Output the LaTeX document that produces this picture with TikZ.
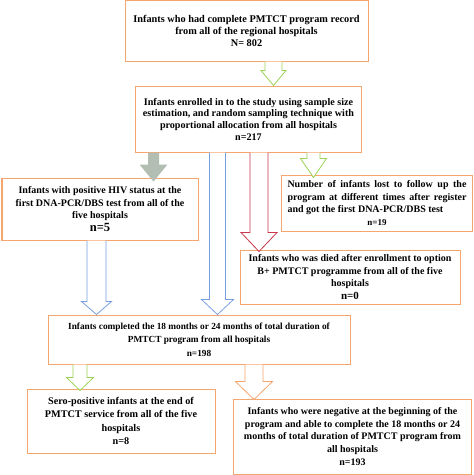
\documentclass[tikz,border=0pt]{standalone}
\usepackage{fontspec}
\setmainfont{Liberation Serif}
\usetikzlibrary{calc}
\definecolor{boxorange}{RGB}{245,165,110}
\definecolor{arrgreen}{RGB}{155,210,85}
\definecolor{arrblue}{RGB}{120,160,225}
\definecolor{arrred}{RGB}{200,55,75}
\definecolor{arrgray}{RGB}{178,190,178}
\tikzstyle{Box} = [draw=boxorange, line width=1pt, rectangle, inner sep=0pt, align=center, font=\fontsize{10}{12.8}\selectfont\bfseries]
\tikzstyle{Hollow} = [line width=0.8pt, fill=white]
\tikzstyle{Solid} = [draw=none, fill=arrgray]
% block arrow: style, start, tip, shaft half width, head half width, head length
\newcommand{\blockarrow}[6]{%
  \draw[#1] let \p1=(#2), \p2=(#3) in
    (\x1-#4,\y1) -- (\x1-#4,\y2+#6) -- (\x1-#5,\y2+#6) -- (\x1,\y2)
    -- (\x1+#5,\y2+#6) -- (\x1+#4,\y2+#6) -- (\x1+#4,\y1);}

\begin{document}
\begin{tikzpicture}[x=1pt,y=-1pt]
    \useasboundingbox (0,0) rectangle (474,475);
    \node[Box, minimum width=243pt, minimum height=60.5pt, font=\fontsize{10.3}{11.7}\selectfont\bfseries] (i_records)  at (246.5,30.75)
      {Infants who had complete PMTCT program record\\ from all of the regional hospitals\\ N= 802};
    \node[Box, minimum width=226pt, minimum height=66pt, font=\fontsize{10.1}{11.7}\selectfont\bfseries]   (i_enrolled) at (248.5,119)
      {Infants enrolled in to the study using sample size\\ estimation, and random sampling technique with\\ proportional allocation from all hospitals\\ n=217};
    \node[Box, minimum width=196pt, minimum height=62pt]   (i_positive) at (100,209)
      {Infants with positive HIV status at the\\ first DNA-PCR/DBS test from all of the\\ five hospitals\\ {\fontsize{12.5}{13}\selectfont n=5}};
    \node[Box, minimum width=191.5pt, minimum height=56pt]   (i_lost)     at (377,203)
      {\makebox[179pt][s]{Number of infants lost to follow up the}\\
       \makebox[179pt][s]{program at different times after register}\\
       \makebox[179pt][l]{and got the first DNA-PCR/DBS test}\\ {\fontsize{9}{10}\selectfont n=19}};
    \node[Box, minimum width=220pt, minimum height=54pt]   (i_died)     at (350,277)
      {Infants who was died after enrollment to option\\ B+ PMTCT programme from all of the five\\ hospitals\\ {\fontsize{11}{11}\selectfont n=0}};
    \node[Box, minimum width=302pt, minimum height=49pt, font=\fontsize{9.3}{13.3}\selectfont\bfseries] (o_completed) at (199,339.5)
      {Infants completed the 18 months or 24 months of total duration of\\ PMTCT program from all hospitals\\ n=198};
    \node[Box, minimum width=188pt, minimum height=64pt, font=\fontsize{10.2}{13.5}\selectfont\bfseries] (o_sero) at (121,421)
      {Sero-positive infants at the end of\\ PMTCT service from all of the five\\ hospitals\\ n=8};
    \node[Box, minimum width=238pt, minimum height=75pt]   (o_negative) at (352.5,436.5)
      {Infants who were negative at the beginning of the\\ program and able to complete the 18 months or 24\\ months of total duration of PMTCT program from\\ all hospitals\\ n=193};
    \blockarrow{Hollow, draw=arrgreen}{273.5,0 |- i_records.south}{273.5,0 |- i_enrolled.north}{8.5pt}{12.5pt}{15pt}
    \blockarrow{Solid}{153.5,0 |- i_enrolled.south}{$(153.5,0 |- i_positive.north)+(0,4)$}{5.5pt}{14pt}{17pt}
    \blockarrow{Hollow, draw=arrblue}{217.5,0 |- i_enrolled.south}{217.5,0 |- o_completed.north}{8pt}{16pt}{15pt}
    \blockarrow{Hollow, draw=arrred}{259,0 |- i_enrolled.south}{$(259,0 |- i_died.north)+(0,2)$}{9pt}{18pt}{19pt}
    \blockarrow{Hollow, draw=arrgreen}{313.5,0 |- i_enrolled.south}{$(313.5,0 |- i_lost.north)+(0,3)$}{6.5pt}{13pt}{19pt}
    \blockarrow{Hollow, draw=arrblue}{96.5,0 |- i_positive.south}{96.5,0 |- o_completed.north}{9.5pt}{15pt}{13pt}
    \blockarrow{Hollow, draw=arrgreen}{80,0 |- o_completed.south}{$(80,0 |- o_sero.north)+(0,2)$}{7pt}{13.5pt}{13pt}
    \blockarrow{Hollow, draw=boxorange}{254,0 |- o_completed.south}{$(254,0 |- o_negative.north)+(0,1)$}{9pt}{18.5pt}{18pt}
\end{tikzpicture}
\end{document}
